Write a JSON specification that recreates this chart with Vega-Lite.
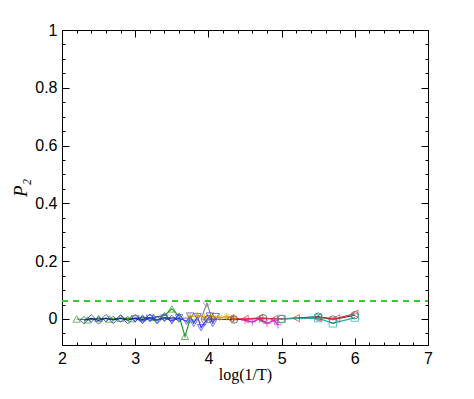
{
  "$schema": "https://vega.github.io/schema/vega-lite/v6.json",
  "width": 366,
  "height": 315,
  "autosize": {"type": "none"},
  "padding": {"left": 62, "top": 30, "right": 46, "bottom": 54},
  "background": "white",
  "config": {"view": {"stroke": null}},
  "data": {"values": [
    {"s":"A","x":2.2,"y":0.0},{"s":"A","x":2.35,"y":-0.003},{"s":"A","x":2.5,"y":0.002},{"s":"A","x":2.65,"y":0.0},{"s":"A","x":2.8,"y":0.003},{"s":"A","x":2.95,"y":0.001},{"s":"A","x":3.1,"y":0.004},{"s":"A","x":3.25,"y":0.006},{"s":"A","x":3.4,"y":0.012},{"s":"A","x":3.5,"y":0.035},{"s":"A","x":3.6,"y":0.01},{"s":"A","x":3.68,"y":-0.06},{"s":"A","x":3.75,"y":0.0},
    {"s":"B","x":2.3,"y":-0.004},{"s":"B","x":2.4,"y":0.002},{"s":"B","x":2.5,"y":-0.005},{"s":"B","x":2.6,"y":0.003},{"s":"B","x":2.7,"y":-0.003},{"s":"B","x":2.8,"y":0.002},{"s":"B","x":2.9,"y":-0.004},{"s":"B","x":3.0,"y":0.003},{"s":"B","x":3.1,"y":-0.002},{"s":"B","x":3.2,"y":0.004},{"s":"B","x":3.3,"y":-0.003},{"s":"B","x":3.4,"y":0.005},{"s":"B","x":3.5,"y":0.0},{"s":"B","x":3.6,"y":0.002},
    {"s":"C","x":3.0,"y":0.0},{"s":"C","x":3.1,"y":-0.005},{"s":"C","x":3.2,"y":0.002},{"s":"C","x":3.3,"y":-0.004},{"s":"C","x":3.4,"y":0.003},{"s":"C","x":3.5,"y":-0.006},{"s":"C","x":3.6,"y":0.004},{"s":"C","x":3.7,"y":-0.008},{"s":"C","x":3.75,"y":0.01},{"s":"C","x":3.8,"y":-0.015},{"s":"C","x":3.85,"y":0.008},{"s":"C","x":3.9,"y":-0.03},{"s":"C","x":3.95,"y":-0.012},{"s":"C","x":4.02,"y":0.01},{"s":"C","x":4.06,"y":-0.015},{"s":"C","x":4.1,"y":0.008},
    {"s":"D","x":3.9,"y":0.0},{"s":"D","x":3.98,"y":0.055},{"s":"D","x":4.05,"y":0.0},
    {"s":"E","x":3.75,"y":0.008},{"s":"E","x":3.85,"y":0.012},{"s":"E","x":3.95,"y":0.006},{"s":"E","x":4.05,"y":0.01},{"s":"E","x":4.15,"y":0.005},{"s":"E","x":4.25,"y":0.008},{"s":"E","x":4.35,"y":0.004},
    {"s":"F","x":4.0,"y":0.0},{"s":"F","x":4.35,"y":-0.002},{"s":"F","x":4.75,"y":0.002},{"s":"F","x":5.0,"y":0.0},{"s":"F","x":5.5,"y":0.008},{"s":"F","x":5.7,"y":-0.002},{"s":"F","x":6.0,"y":0.013},
    {"s":"G","x":4.3,"y":0.002},{"s":"G","x":4.5,"y":0.0},{"s":"G","x":4.7,"y":0.004},{"s":"G","x":4.9,"y":0.0},{"s":"G","x":5.2,"y":0.003},{"s":"G","x":5.5,"y":0.005},{"s":"G","x":5.75,"y":0.002},{"s":"G","x":6.0,"y":0.018},
    {"s":"H","x":4.5,"y":-0.005},{"s":"H","x":4.6,"y":-0.01},{"s":"H","x":4.7,"y":0.0},{"s":"H","x":4.8,"y":-0.015},{"s":"H","x":4.9,"y":-0.005},{"s":"H","x":4.95,"y":-0.02},
    {"s":"I","x":5.0,"y":0.0},{"s":"I","x":5.5,"y":0.003},{"s":"I","x":5.7,"y":-0.015},{"s":"I","x":6.0,"y":0.005}
  ]},
  "layer": [
    {
      "mark": {"type": "line", "strokeWidth": 1.2, "clip": true},
      "encoding": {
        "x": {"field": "x", "type": "quantitative",
          "scale": {"domain": [2, 7], "nice": false, "zero": false},
          "axis": {"orient": "bottom", "values": [2,2.2,2.4,2.6,2.8,3,3.2,3.4,3.6,3.8,4,4.2,4.4,4.6,4.8,5,5.2,5.4,5.6,5.8,6,6.2,6.4,6.6,6.8,7],
            "labelExpr": "abs(datum.value - round(datum.value)) < 0.001 ? format(datum.value, 'd') : ''",
            "tickSize": {"condition": {"test": "abs(datum.value - round(datum.value)) < 0.001", "value": -7}, "value": -3},
            "grid": false, "domainColor": "black", "tickColor": "black", "labelColor": "black",
            "labelFont": "Liberation Sans", "labelFontSize": 16, "labelPadding": 12, "labelFlush": false,
            "title": "log(1/T)", "titleFont": "Liberation Serif", "titleFontSize": 16, "titleFontWeight": "normal", "titleColor": "black", "titlePadding": 0}},
        "y": {"field": "y", "type": "quantitative",
          "scale": {"domain": [-0.09, 1], "nice": false, "zero": false},
          "axis": {"orient": "left", "values": [-0.05,0,0.05,0.1,0.15,0.2,0.25,0.3,0.35,0.4,0.45,0.5,0.55,0.6,0.65,0.7,0.75,0.8,0.85,0.9,0.95,1],
            "labelExpr": "abs(datum.value*5 - round(datum.value*5)) < 0.001 ? format(datum.value, '~g') : ''",
            "tickSize": {"condition": {"test": "abs(datum.value*5 - round(datum.value*5)) < 0.001", "value": -7}, "value": -3},
            "grid": false, "domainColor": "black", "tickColor": "black", "labelColor": "black",
            "labelFont": "Liberation Sans", "labelFontSize": 16, "labelPadding": 12, "labelFlush": false,
            "title": "P₂", "titleFont": "Liberation Serif", "titleFontStyle": "italic", "titleFontSize": 19, "titleFontWeight": "normal", "titleColor": "black", "titlePadding": 4}},
        "color": {"field": "s", "type": "nominal", "legend": null,
          "scale": {"domain": ["A","B","C","D","E","F","G","H","I"], "range": ["#2a9a2a","#10208a","#3a3aff","#8a8a8a","#e0a020","#404040","#e03030","#d020d0","#20b0b0"]}},
        "detail": {"field": "s"}
      }
    },
    {
      "mark": {"type": "rule", "color": "#33cc33", "strokeDash": [6, 5], "strokeWidth": 1.3},
      "encoding": {
        "x": {"datum": 2, "type": "quantitative",
          "axis": {"orient": "top", "values": [2,2.2,2.4,2.6,2.8,3,3.2,3.4,3.6,3.8,4,4.2,4.4,4.6,4.8,5,5.2,5.4,5.6,5.8,6,6.2,6.4,6.6,6.8,7],
            "labels": false, "title": null, "grid": false, "domainColor": "black", "tickColor": "black",
            "tickSize": {"condition": {"test": "abs(datum.value - round(datum.value)) < 0.001", "value": -7}, "value": -3}}},
        "x2": {"datum": 7},
        "y": {"datum": 0.063, "type": "quantitative",
          "axis": {"orient": "right", "values": [-0.05,0,0.05,0.1,0.15,0.2,0.25,0.3,0.35,0.4,0.45,0.5,0.55,0.6,0.65,0.7,0.75,0.8,0.85,0.9,0.95,1],
            "labels": false, "title": null, "grid": false, "domainColor": "black", "tickColor": "black",
            "tickSize": {"condition": {"test": "abs(datum.value*5 - round(datum.value*5)) < 0.001", "value": -7}, "value": -3}}}
      }
    },
    {
      "mark": {"type": "point", "filled": false, "size": 55, "strokeWidth": 1, "clip": true},
      "encoding": {
        "x": {"field": "x", "type": "quantitative", "axis": null},
        "y": {"field": "y", "type": "quantitative", "axis": null},
        "color": {"field": "s", "type": "nominal", "legend": null},
        "shape": {"field": "s", "type": "nominal", "legend": null,
          "scale": {"domain": ["A","B","C","D","E","F","G","H","I"], "range": ["triangle-up","diamond","triangle-down","diamond","M-1,0L1,0M0,-1L0,1M-0.7,-0.7L0.7,0.7M-0.7,0.7L0.7,-0.7","circle","triangle-left","M-1,0L1,0M0,-1L0,1","square"]}}
      }
    }
  ],
  "resolve": {"axis": {"x": "independent", "y": "independent"}}
}
